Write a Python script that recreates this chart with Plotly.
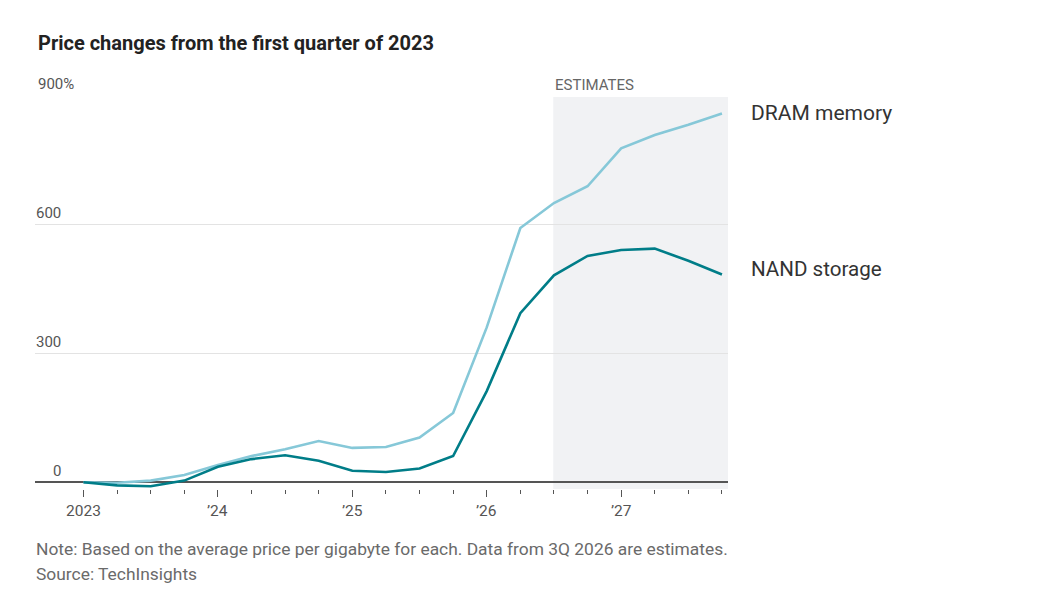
import plotly.graph_objects as go

# ---- data ----
quarters = [f"{q}Q {y}" for y in range(2023, 2028) for q in range(1, 5)]
dram = [0, -1, 4, 17, 40, 61, 77, 96, 80, 82, 104, 161, 360, 591, 649, 688, 776, 807, 831, 857]
nand = [0, -7, -9, 4, 36, 54, 63, 50, 27, 24, 32, 61, 212, 393, 481, 526, 540, 543, 515, 483]
year_ticks = ["2023", "\u201924", "\u201925", "\u201926", "\u201927"]
y_ticks = [0, 300, 600, 900]
estimate_start = "3Q 2026"

x = list(range(len(quarters)))
est_i = quarters.index(estimate_start)

# ---- layout geometry (pixels) ----
W, H = 1058, 602
L, R, T, B = 35, 728, 95, 489
pw, ph = R - L, B - T


def px_x(p):
    return (p - L) / pw


def px_y(p):
    return (B - p) / ph


FONT = "Roboto"
DRAM_C = "#86c8d8"
NAND_C = "#007d88"
TXT = "#555555"

fig = go.Figure()
fig.add_trace(go.Scatter(x=x, y=dram, mode="lines", line=dict(color=DRAM_C, width=2.6),
                         name="DRAM memory", hoverinfo="skip"))
fig.add_trace(go.Scatter(x=x, y=nand, mode="lines", line=dict(color=NAND_C, width=2.6),
                         name="NAND storage", hoverinfo="skip"))

# estimates band
fig.add_shape(type="rect", xref="x", yref="paper", x0=est_i - 0.02, x1=19.18,
              y0=0, y1=px_y(97), fillcolor="#f1f2f4", line=dict(width=0), layer="below")

annotations = []
# title
annotations.append(dict(text="<b>Price changes from the first quarter of 2023</b>", xref="paper", yref="paper",
                        x=px_x(36), y=px_y(43), xanchor="left", yanchor="middle", showarrow=False,
                        font=dict(family=FONT, size=20, color="#222222")))
# y labels
for v in y_ticks:
    if v == y_ticks[-1]:
        annotations.append(dict(text=f"{v}%", xref="paper", yref="y", x=px_x(36), y=v,
                                xanchor="left", yanchor="bottom", yshift=0, showarrow=False,
                                font=dict(family=FONT, size=15, color=TXT)))
    else:
        annotations.append(dict(text=f"{v}", xref="paper", yref="y", x=px_x(63), y=v,
                                xanchor="right", yanchor="bottom", yshift=0, showarrow=False,
                                font=dict(family=FONT, size=15, color=TXT)))
# x labels
for i, t in enumerate(year_ticks):
    annotations.append(dict(text=t, xref="x", yref="paper", x=i * 4, y=px_y(511),
                            xanchor="center", yanchor="middle", showarrow=False,
                            font=dict(family=FONT, size=15.5, color=TXT)))
# estimates
annotations.append(dict(text="ESTIMATES", xref="x", yref="paper", x=est_i - 0.02, y=px_y(85),
                        xanchor="left", yanchor="middle", showarrow=False,
                        font=dict(family=FONT, size=15, color="#666666")))
# series labels
annotations.append(dict(text="DRAM memory", xref="paper", yref="paper", x=px_x(749), y=px_y(113),
                        xanchor="left", yanchor="middle", showarrow=False,
                        font=dict(family=FONT, size=21, color="#333333")))
annotations.append(dict(text="NAND storage", xref="paper", yref="paper", x=px_x(749), y=px_y(269),
                        xanchor="left", yanchor="middle", showarrow=False,
                        font=dict(family=FONT, size=20.6, color="#333333")))
# footnotes
annotations.append(dict(text="Note: Based on the average price per gigabyte for each. Data from 3Q 2026 are estimates.",
                        xref="paper", yref="paper", x=px_x(34), y=px_y(549), xanchor="left", yanchor="middle",
                        showarrow=False, font=dict(family=FONT, size=17.4, color="#6a6a6a")))
annotations.append(dict(text="Source: TechInsights", xref="paper", yref="paper", x=px_x(34), y=px_y(574),
                        xanchor="left", yanchor="middle", showarrow=False,
                        font=dict(family=FONT, size=17.4, color="#6a6a6a")))

fig.update_layout(
    width=W, height=H,
    margin=dict(l=L, r=W - R, t=T, b=H - B, pad=0),
    paper_bgcolor="white", plot_bgcolor="rgba(0,0,0,0)",
    showlegend=False,
    annotations=annotations,
    font=dict(family=FONT),
)
fig.update_xaxes(range=[-1.443, 19.18], showgrid=False, zeroline=False, showline=False,
                 tickmode="array", tickvals=[i * 4 for i in range(len(year_ticks))],
                 ticks="outside", ticklen=7, tickwidth=1, tickcolor="#555555",
                 showticklabels=False,
                 minor=dict(tickmode="array", tickvals=x, ticks="outside", ticklen=4,
                            tickwidth=1, tickcolor="#555555", showgrid=False),
                 fixedrange=True)
fig.update_yaxes(range=[-15.5, 900], tickmode="array", tickvals=y_ticks, showticklabels=False,
                 showgrid=True, gridcolor="#e3e3e3", gridwidth=1,
                 zeroline=True, zerolinecolor="#555555", zerolinewidth=2,
                 showline=False, ticks="", fixedrange=True)

fig.write_html("out.html", config={"displayModeBar": False})
